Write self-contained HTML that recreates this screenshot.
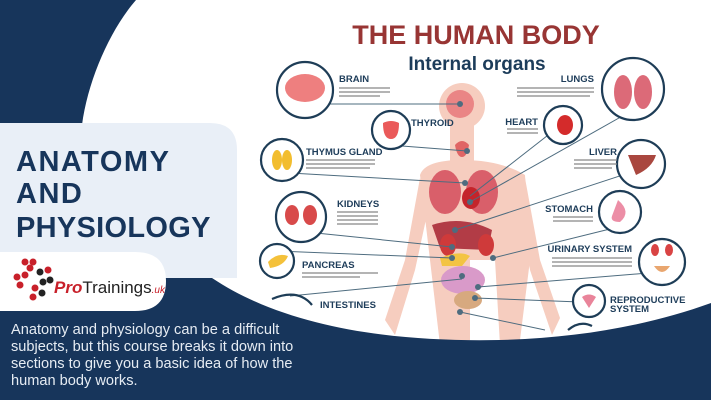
<!DOCTYPE html>
<html><head><meta charset="utf-8"><style>
html,body{margin:0;padding:0;width:711px;height:400px;overflow:hidden;background:#fff;font-family:"Liberation Sans",sans-serif}
svg{display:block}
</style></head><body>
<svg width="711" height="400" viewBox="0 0 711 400" xmlns="http://www.w3.org/2000/svg">
<rect width="711" height="400" fill="#fff"/>
<path d="M0 0 L136 0 C110 30 88 80 82 125 L0 125 Z" fill="#17355b"/>
<g fill="#f6cdbf">
<circle cx="462" cy="106" r="23"/>
<rect x="450" y="120" width="24" height="45"/>
<path d="M420 175 Q425 160 462 160 Q500 160 525 175 L530 260 L520 340 L500 345 L495 260 L470 260 L470 340 L440 345 L430 260 Z"/>
<path d="M420 178 L405 260 L385 320 L395 335 L415 270 L428 210 Z"/>
<path d="M525 178 L540 260 L560 318 L552 335 L530 270 L518 210 Z"/>
</g>
<circle cx="460" cy="104" r="14" fill="#ea8585"/>
<path d="M455 145 q7 -8 14 0 q-2 12 -7 12 q-5 0 -7 -12z" fill="#e06565"/>
<ellipse cx="445" cy="192" rx="16" ry="22" fill="#d95f6a"/>
<ellipse cx="482" cy="192" rx="16" ry="22" fill="#d95f6a"/>
<ellipse cx="471" cy="198" rx="9" ry="11" fill="#c4242b"/>
<path d="M432 225 Q462 215 492 230 L488 250 L440 248 Z" fill="#b23c46"/>
<ellipse cx="448" cy="245" rx="8" ry="11" fill="#cf3a3a"/>
<ellipse cx="486" cy="245" rx="8" ry="11" fill="#cf3a3a"/>
<path d="M440 258 Q460 250 470 256 L462 266 L442 266Z" fill="#f3c443"/>
<ellipse cx="463" cy="280" rx="22" ry="14" fill="#d99ac9"/>
<ellipse cx="468" cy="300" rx="14" ry="9" fill="#d7a97f"/>
<path d="M0 276 L212 278 C290 330 400 342 500 340 C580 338 650 325 711 303 L711 400 L0 400 Z" fill="#17355b"/>
<path d="M0 123 L210 123 Q237 123 237 150 L237 278 L0 278 Z" fill="#e9eff7"/>
<path d="M0 252 L135 252 Q166 252 166 281 Q166 311 135 311 L0 311 Z" fill="#fff"/>
<g stroke="#4e6c7f" stroke-width="1" fill="none">
<line x1="317" y1="104" x2="460" y2="104"/>
<line x1="389" y1="145" x2="467" y2="151"/>
<line x1="290" y1="173" x2="465" y2="183"/>
<line x1="316" y1="233" x2="452" y2="247"/>
<line x1="277" y1="251" x2="452" y2="258"/>
<line x1="290" y1="296" x2="462" y2="279"/>
<line x1="626" y1="114" x2="470" y2="202"/>
<line x1="552" y1="132" x2="470" y2="196"/>
<line x1="641" y1="169" x2="455" y2="230"/>
<line x1="618" y1="227" x2="493" y2="258"/>
<line x1="648" y1="273" x2="478" y2="287"/>
<line x1="580" y1="302" x2="475" y2="298"/>
<line x1="545" y1="330" x2="460" y2="312"/>
</g>
<g fill="#4e6c7f">
<circle cx="460" cy="104" r="3"/><circle cx="467" cy="151" r="3"/><circle cx="465" cy="183" r="3"/>
<circle cx="452" cy="247" r="3"/><circle cx="452" cy="258" r="3"/><circle cx="462" cy="276" r="3"/>
<circle cx="470" cy="202" r="3"/><circle cx="455" cy="230" r="3"/><circle cx="493" cy="258" r="3"/>
<circle cx="478" cy="287" r="3"/><circle cx="475" cy="298" r="3"/><circle cx="460" cy="312" r="3"/>
</g>
<g fill="#fff" stroke="#1e3d57" stroke-width="2.2">
<circle cx="305" cy="90" r="28"/>
<circle cx="391" cy="130" r="19"/>
<circle cx="282" cy="160" r="21"/>
<circle cx="301" cy="217" r="25"/>
<circle cx="277" cy="261" r="17"/>
<circle cx="633" cy="89" r="31"/>
<circle cx="563" cy="125" r="19"/>
<circle cx="641" cy="164" r="24"/>
<circle cx="620" cy="212" r="21"/>
<circle cx="662" cy="262" r="23"/>
<circle cx="589" cy="301" r="16"/>
</g>
<path d="M272 299 Q298 288 312 305" stroke="#1e3d57" stroke-width="2.2" fill="none"/>
<path d="M568 330 Q580 320 592 326" stroke="#1e3d57" stroke-width="2.2" fill="none"/>
<ellipse cx="305" cy="88" rx="20" ry="14" fill="#ee7f7f"/>
<path d="M383 123 q8 -4 16 0 q0 16 -8 16 q-8 0 -8 -16z" fill="#ea5a5a"/>
<ellipse cx="277" cy="160" rx="5" ry="10" fill="#f2bd2e"/><ellipse cx="287" cy="160" rx="5" ry="10" fill="#f2bd2e"/>
<ellipse cx="292" cy="215" rx="7" ry="10" fill="#d84a4a"/><ellipse cx="310" cy="215" rx="7" ry="10" fill="#d84a4a"/>
<path d="M268 262 Q277 252 288 256 Q284 266 270 268Z" fill="#f4c13a"/>
<ellipse cx="623" cy="92" rx="9" ry="17" fill="#dc6a78"/><ellipse cx="643" cy="92" rx="9" ry="17" fill="#dc6a78"/>
<ellipse cx="565" cy="125" rx="8" ry="10" fill="#d42b2b"/>
<path d="M628 155 L656 155 Q652 168 636 175 Z" fill="#a9473f"/>
<path d="M618 200 Q632 212 620 222 Q610 222 612 216 Z" fill="#ec8ea6"/>
<ellipse cx="655" cy="250" rx="4" ry="6" fill="#d94444"/><ellipse cx="669" cy="250" rx="4" ry="6" fill="#d94444"/>
<path d="M654 266 Q662 278 670 266Z" fill="#e9a66f"/>
<path d="M582 297 Q589 292 596 297 L589 308Z" fill="#e9849a"/>
<text x="476" y="44" font-size="27" font-weight="bold" fill="#983534" text-anchor="middle">THE HUMAN BODY</text>
<text x="477" y="70" font-size="19" font-weight="bold" fill="#1c3c5a" text-anchor="middle">Internal organs</text>
<g font-size="9.5" font-weight="bold" fill="#1e3d5a">
<text x="339" y="82">BRAIN</text>
<text x="411" y="126">THYROID</text>
<text x="306" y="155">THYMUS GLAND</text>
<text x="337" y="207">KIDNEYS</text>
<text x="302" y="268">PANCREAS</text>
<text x="320" y="308">INTESTINES</text>
<text x="594" y="82" text-anchor="end">LUNGS</text>
<text x="538" y="125" text-anchor="end">HEART</text>
<text x="617" y="155" text-anchor="end">LIVER</text>
<text x="593" y="212" text-anchor="end">STOMACH</text>
<text x="632" y="252" text-anchor="end">URINARY SYSTEM</text>
<text x="610" y="303">REPRODUCTIVE</text>
<text x="610" y="312">SYSTEM</text>
</g>
<g stroke="#888" stroke-width="1.2">
<line x1="339" y1="88" x2="390" y2="88"/><line x1="339" y1="92" x2="390" y2="92"/><line x1="339" y1="96" x2="380" y2="96"/>
<line x1="306" y1="160" x2="375" y2="160"/><line x1="306" y1="164" x2="375" y2="164"/><line x1="306" y1="168" x2="370" y2="168"/>
<line x1="337" y1="212" x2="378" y2="212"/><line x1="337" y1="216" x2="378" y2="216"/><line x1="337" y1="220" x2="378" y2="220"/><line x1="337" y1="224" x2="378" y2="224"/>
<line x1="302" y1="273" x2="378" y2="273"/><line x1="302" y1="277" x2="360" y2="277"/>
<line x1="517" y1="88" x2="594" y2="88"/><line x1="517" y1="92" x2="594" y2="92"/><line x1="517" y1="96" x2="590" y2="96"/>
<line x1="507" y1="129" x2="538" y2="129"/><line x1="507" y1="133" x2="538" y2="133"/>
<line x1="574" y1="160" x2="617" y2="160"/><line x1="574" y1="164" x2="617" y2="164"/><line x1="574" y1="168" x2="612" y2="168"/>
<line x1="553" y1="217" x2="593" y2="217"/><line x1="553" y1="221" x2="593" y2="221"/>
<line x1="552" y1="258" x2="632" y2="258"/><line x1="552" y1="262" x2="632" y2="262"/><line x1="552" y1="266" x2="632" y2="266"/>
</g>
<g font-size="29" font-weight="bold" fill="#17355b" letter-spacing="1.5">
<text x="16" y="171">ANATOMY</text>
<text x="16" y="203">AND</text>
<text x="16" y="237" letter-spacing="0.3">PHYSIOLOGY</text>
</g>
<g fill="#c8202a">
<circle cx="25" cy="262" r="3.5"/><circle cx="33" cy="262" r="3.5"/><circle cx="30" cy="268" r="3.5"/>
<circle cx="17" cy="277" r="3.5"/><circle cx="25" cy="275" r="3.5"/><circle cx="20" cy="285" r="3.5"/>
<circle cx="48" cy="270" r="3.5"/><circle cx="35" cy="288" r="3.5"/><circle cx="33" cy="297" r="3.5"/>
</g>
<g fill="#222"><circle cx="40" cy="272" r="3.5"/><circle cx="43" cy="282" r="3.5"/><circle cx="42" cy="293" r="3.5"/><circle cx="50" cy="280" r="3.5"/></g>
<text x="54" y="293" font-size="17" font-style="italic" font-weight="bold" fill="#c8202a">Pro<tspan fill="#222" font-weight="normal" font-style="normal">Trainings</tspan><tspan fill="#c8202a" font-size="10" font-weight="normal">.uk</tspan></text>
<g font-size="14.6" fill="#e6ecf3">
<text x="11" y="334">Anatomy and physiology can be a difficult</text>
<text x="11" y="351">subjects, but this course breaks it down into</text>
<text x="11" y="368">sections to give you a basic idea of how the</text>
<text x="11" y="385">human body works.</text>
</g>
</svg>
</body></html>
